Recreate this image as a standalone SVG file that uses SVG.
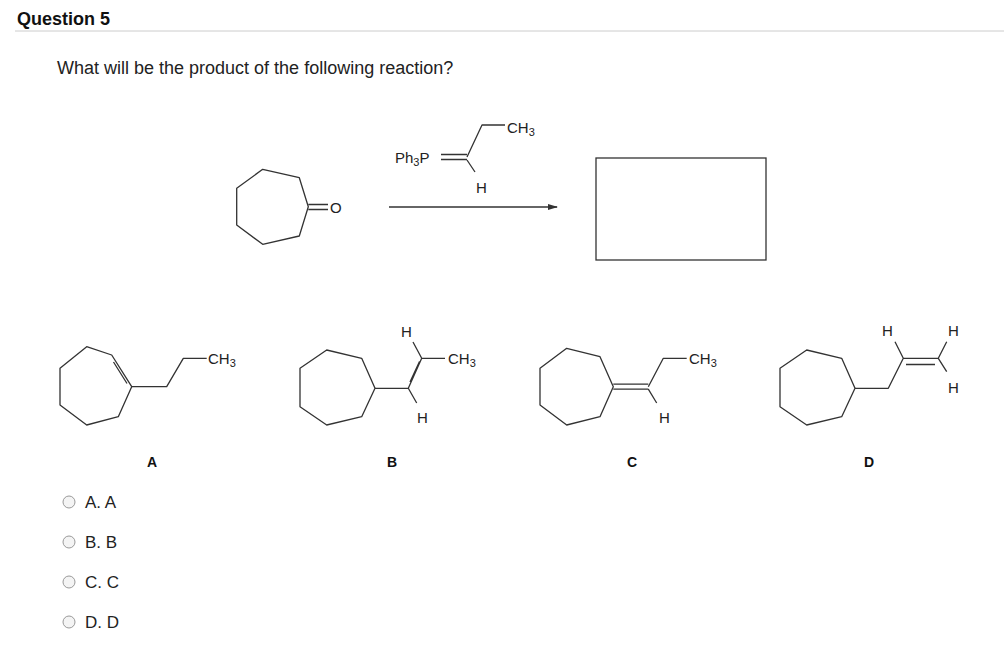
<svg xmlns="http://www.w3.org/2000/svg" width="1004" height="664" viewBox="0 0 1004 664">
<style>
.b{fill:none;stroke:#333;stroke-width:1.3;stroke-linejoin:round}
.t{font-family:"Liberation Sans",Arial,sans-serif;font-size:15px;fill:#222}
.s{font-size:11px}
.l{font-family:"Liberation Sans",Arial,sans-serif;font-size:14px;font-weight:bold;fill:#111;text-anchor:middle}
.o{font-family:"Liberation Sans",Arial,sans-serif;font-size:17px;fill:#222}
.r{fill:#f4f4f4;stroke:#999;stroke-width:1}
</style>
<defs><marker id="ah" markerWidth="10" markerHeight="6" refX="9" refY="3" orient="auto" markerUnits="userSpaceOnUse"><path d="M0,0L10,3L0,6z" fill="#333"/></marker></defs>
<rect width="1004" height="664" fill="#fff"/>
<text x="17" y="25" font-family="Liberation Sans,Arial,sans-serif" font-size="18" font-weight="bold" fill="#111">Question 5</text>
<line x1="15" y1="31" x2="1004" y2="31" stroke="#ccc"/>
<text x="57" y="74" font-family="Liberation Sans,Arial,sans-serif" font-size="18" fill="#222">What will be the product of the following reaction?</text>
<g id="reactant">
<path class="b" d="M308.3,206.7L299.3,177.7L262.7,169.3L236.7,188.3L236.7,225L262.7,244.3L299.3,236Z"/>
<path class="b" d="M308.3,204.5H328M308.3,209.5H328"/>
<text class="t" x="330" y="213" font-size="15">O</text>
</g>
<g id="reagent">
<text class="t" x="395" y="163">Ph<tspan class="s" dy="3">3</tspan><tspan dy="-3">P</tspan></text>
<path class="b" d="M441,154.5H467M441,159.5H467M467,157L482,125H505M467,160L475,172"/>
<text class="t" x="507" y="133">CH<tspan class="s" dy="3">3</tspan></text>
<text class="t" x="476" y="193">H</text>
</g>
<g id="connectors"><line x1="389" y1="207" x2="557" y2="207" stroke="#333" stroke-width="1.3" marker-end="url(#ah)"/></g>
<g id="box"><rect x="596" y="158" width="170" height="102" fill="none" stroke="#333" stroke-width="1.3"/></g>
<g id="A">
<path class="b" d="M131.7,386.7L111.7,355L86.7,346.7L60,368.3L60,405L86.7,425L118.3,416.7Z"/>
<path class="b" d="M113.5,362L127,383.5M131.7,386.7H166.7L183.3,358.3H206.7"/>
<text class="t" x="208" y="364">CH<tspan class="s" dy="3">3</tspan></text>
<text class="l" x="152" y="467">A</text>
</g>
<g id="B">
<path class="b" d="M375,388.3L361.7,358.3L326.7,350L300,368.3L300,406.7L326.7,425L361.7,416.7Z"/>
<path class="b" d="M375,388.3H408.3L421.7,358.3H445M410,382L419.5,361.5M421.7,358.3L413,342M408.3,388.3L416.7,403"/>
<text class="t" x="448" y="364">CH<tspan class="s" dy="3">3</tspan></text>
<text class="t" x="401" y="337">H</text>
<text class="t" x="417" y="423">H</text>
<text class="l" x="392" y="467">B</text>
</g>
<g id="C">
<path class="b" d="M613.3,386.7L600,356.7L566.7,348.3L540,368.3L540,405L566.7,425L600,416.7Z"/>
<path class="b" d="M613.3,384.2H648.3M613.3,389.2H648.3M648.3,386.7L663.3,358.3H686.7M648.3,389.2L656.7,403"/>
<text class="t" x="689" y="364">CH<tspan class="s" dy="3">3</tspan></text>
<text class="t" x="659" y="423">H</text>
<text class="l" x="632" y="467">C</text>
</g>
<g id="D">
<path class="b" d="M855,388.3L841.7,358.3L806.7,350L780,368.3L780,406.7L806.7,425L841.7,416.7Z"/>
<path class="b" d="M855,388.3H888.3L903.3,358.3H938.3M906,364.5H935M903.3,358.3L895,341.7M938.3,358.3L946.7,341.7M938.3,358.3L946.7,371.7"/>
<text class="t" x="882" y="336">H</text>
<text class="t" x="948" y="336">H</text>
<text class="t" x="948" y="393">H</text>
<text class="l" x="869" y="467">D</text>
</g>
<g id="options">
<circle class="r" cx="69" cy="502" r="6"/><text class="o" x="85" y="508">A. A</text>
<circle class="r" cx="69" cy="542" r="6"/><text class="o" x="85" y="548">B. B</text>
<circle class="r" cx="69" cy="582" r="6"/><text class="o" x="85" y="588">C. C</text>
<circle class="r" cx="69" cy="622" r="6"/><text class="o" x="85" y="628">D. D</text>
</g>
</svg>
